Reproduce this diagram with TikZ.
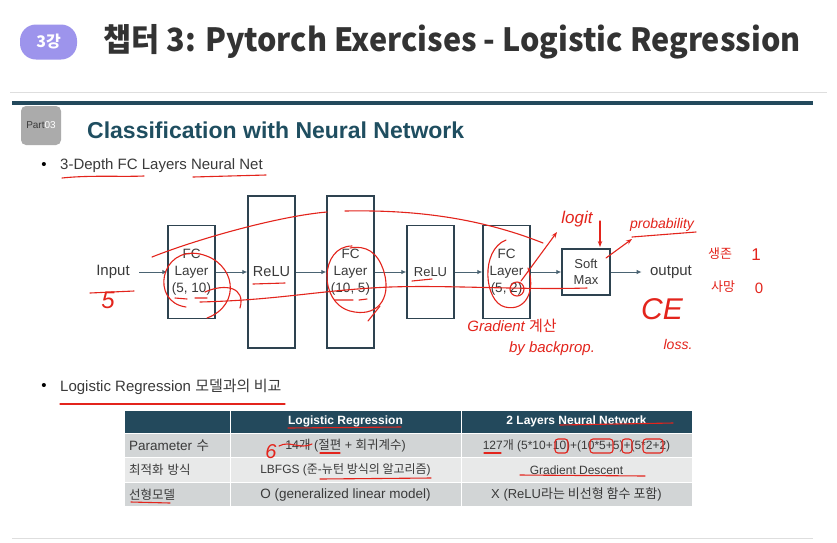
\documentclass[tikz,border=0pt]{standalone}
\usepackage{fontspec}
\setmainfont{Liberation Sans}
\newfontfamily\krfont{Noto Sans CJK KR}
\newcommand{\kor}[1]{{\krfont #1}}
\usetikzlibrary{arrows.meta, positioning}
\definecolor{Slate}{HTML}{23495C}
\definecolor{HeadTeal}{HTML}{1F4E60}
\definecolor{Badge}{HTML}{9D94EC}
\definecolor{TitleGray}{HTML}{333333}
\definecolor{TextGray}{HTML}{3A3A3A}
\definecolor{LineGray}{HTML}{DEDEDE}
\definecolor{PartGray}{HTML}{ABABAB}
\definecolor{BoxLine}{HTML}{2E4350}
\definecolor{ArrowGray}{HTML}{4A6372}
\definecolor{RowDark}{HTML}{D2D5D6}
\definecolor{RowLight}{HTML}{E8E9E9}
\definecolor{Ink}{HTML}{E3241C}

\begin{document}
\begin{tikzpicture}[x=1pt, y=-1pt,
  box/.style={draw=BoxLine, line width=1.4pt, fill=white, inner sep=0pt,
     minimum width=47pt, align=center, text=TextGray, font=\fontsize{13.5}{17}\selectfont},
  arr/.style={-{Latex[length=5pt,width=4.5pt]}, line width=0.9pt, ArrowGray},
  ink/.style={draw=Ink, line width=1.1pt, line cap=round, line join=round},
  note/.style={text=Ink, inner sep=0pt, font=\itshape\fontsize{15}{15}\selectfont},
  cell/.style={draw=white, line width=1pt, inner sep=0pt, minimum height=24.5pt,
     text=TextGray, font=\fontsize{12.5}{12.5}\selectfont},
  head/.style={cell, fill=Slate, text=white, font=\bfseries\fontsize{12}{12}\selectfont}]
  \fill[white] (0,0) rectangle (837,542);
  \useasboundingbox (0,0) rectangle (837,542);

  % page header
  \node[fill=Badge, rounded corners=16pt, minimum width=57pt, minimum height=35pt,
        text=white, font=\krfont\bfseries\fontsize{16}{16}\selectfont] (badge) at (48.5,42) {3강};
  \node[anchor=west, inner sep=0pt, text=TitleGray,
        font=\krfont\bfseries\fontsize{32}{32}\selectfont] (title) at (103,42)
        {\scalebox{0.955}[1]{챕터 3: Pytorch Exercises - Logistic Regression}};
  \draw[LineGray, line width=1pt] (10,92) -- (827,92);
  \draw[Slate, line width=4.5pt] (12,103) -- (813,103);
  \draw[LineGray, line width=0.8pt] (12,538) -- (813,538);

  % slide heading
  \node[fill=PartGray, rounded corners=5pt, minimum width=40pt, minimum height=39pt,
        inner sep=0pt, font=\fontsize{10}{10}\selectfont] (part) at (41,125.5)
        {\textcolor{TextGray}{Part}\textcolor{white}{03}};
  \node[anchor=west, inner sep=0pt, text=HeadTeal, font=\bfseries\fontsize{23}{23}\selectfont]
        (heading) at (87,130) {Classification with Neural Network};
  \node[inner sep=0pt, font=\fontsize{15}{15}\selectfont] (dot1) at (44,166) {•};
  \node[anchor=west, inner sep=0pt, text=TextGray, font=\fontsize{15}{15}\selectfont]
        (bul1) at (60,166) {3-Depth FC Layers Neural Net};

  % network
  \node[text=TextGray, font=\fontsize{15}{15}\selectfont] (input) at (113,272) {Input};
  \node[box, minimum height=93pt] (fc1) at (191.5,272) {FC\\Layer\\(5, 10)};
  \node[box, minimum height=152pt, font=\fontsize{14.5}{14.5}\selectfont] (relu1) at (271.5,272) {ReLU};
  \node[box, minimum height=152pt] (fc2) at (350.5,272) {FC\\Layer\\(10, 5)};
  \node[box, minimum height=93pt, font=\fontsize{13}{13}\selectfont] (relu2) at (430.5,272) {ReLU};
  \node[box, minimum height=93pt] (fc3) at (506.5,272) {FC\\Layer\\(5, 2)};
  \node[box, minimum width=48pt, minimum height=46pt, font=\fontsize{13}{16}\selectfont]
        (soft) at (586,272) {Soft\\Max};
  \node[text=TextGray, font=\fontsize{15}{15}\selectfont] (output) at (671,272) {output};
  \draw[arr, shorten <=6pt] (input) -- (fc1);
  \draw[arr] (fc1) -- (relu1);
  \draw[arr] (relu1) -- (fc2);
  \draw[arr] (fc2) -- (relu2);
  \draw[arr] (relu2) -- (fc3);
  \draw[arr] (fc3) -- (soft);
  \draw[arr, shorten >=5pt] (soft) -- (output);

  % second bullet and table
  \node[inner sep=0pt, font=\fontsize{15}{15}\selectfont] (dot2) at (44,387) {•};
  \node[anchor=west, inner sep=0pt, text=TextGray, font=\fontsize{15}{15}\selectfont]
        (bul2) at (60,387) {Logistic Regression \kor{모델과의 비교}};
  \node[head, minimum width=106pt, minimum height=23pt] (h0) at (177,421.5) {};
  \node[head, minimum width=231pt, minimum height=23pt] (h1) at (345.5,421.5) {Logistic Regression};
  \node[head, minimum width=231pt, minimum height=23pt] (h2) at (576.5,421.5) {2 Layers Neural Network};
  \node[cell, fill=RowDark, minimum width=106pt, text width=96pt, align=left,
        font=\fontsize{13.5}{13.5}\selectfont] (a0) at (177,445.5) {Parameter \kor{수}};
  \node[cell, fill=RowDark, minimum width=231pt] (a1) at (345.5,445.5) {14\kor{개} (\kor{절편} + \kor{회귀계수})};
  \node[cell, fill=RowDark, minimum width=231pt, font=\fontsize{12}{12}\selectfont] (a2) at (576.5,445.5)
        {127\kor{개} (5*10+10)+(10*5+5)+(5*2+2)};
  \node[cell, fill=RowLight, minimum width=106pt, text width=96pt, align=left] (b0) at (177,470) {\kor{최적화 방식}};
  \node[cell, fill=RowLight, minimum width=231pt, font=\fontsize{12}{12}\selectfont] (b1) at (345.5,470)
        {LBFGS (\kor{준}-\kor{뉴턴 방식의 알고리즘})};
  \node[cell, fill=RowLight, minimum width=231pt, font=\fontsize{12}{12}\selectfont] (b2) at (576.5,470) {Gradient Descent};
  \node[cell, fill=RowDark, minimum width=106pt, text width=96pt, align=left] (c0) at (177,494.5) {\kor{선형모델}};
  \node[cell, fill=RowDark, minimum width=231pt, font=\fontsize{13.5}{13.5}\selectfont] (c1) at (345.5,494.5)
        {O (generalized linear model)};
  \node[cell, fill=RowDark, minimum width=231pt, font=\fontsize{13}{13}\selectfont] (c2) at (576.5,494.5)
        {X (ReLU\kor{라는 비선형 함수 포함})};

  % red pen notes
  \draw[ink] (62,178) .. controls (90,175) and (120,177) .. (144,176);
  \draw[ink] (193,177) -- (266,175);
  \draw[ink] (90,293) -- (134,291);
  \node[note, font=\itshape\fontsize{24}{24}\selectfont] (five) at (108,300) {5};
  \draw[ink] (152,257) .. controls (200,238) and (280,216) .. (327,212);
  \draw[ink] (345,211) .. controls (400,210) and (470,214) .. (543,243);
  \draw[ink] (200,254) .. controls (160,246) and (150,302) .. (186,307);
  \draw[ink] (200,254) .. controls (236,262) and (242,305) .. (207,318);
  \draw[ink] (175,298) -- (187,299) (195,298) -- (207,298);
  \draw[ink] (205,292) .. controls (225,283) and (246,287) .. (240,308);
  \draw[ink] (200,302) .. controls (280,300) and (320,290) .. (390,287)
        .. controls (450,285) and (520,290) .. (587,288);
  \draw[ink] (253,284) -- (285,283) (412,281) -- (432,279);
  \draw[ink] (352,246) .. controls (320,246) and (318,302) .. (350,311)
        .. controls (376,318) and (392,300) .. (384,272)
        .. controls (378,252) and (366,245) .. (350,248);
  \draw[ink] (380,306) -- (368,321);
  \draw[ink] (335,300) -- (353,300) (359,300) -- (367,299);
  \draw[ink] (506,240) .. controls (480,250) and (484,302) .. (505,307)
        .. controls (526,312) and (536,290) .. (528,268);
  \draw[ink] (517,289) circle (7);
  \draw[ink, -{Stealth[length=6pt]}] (521,281) -- (557,232);
  \node[note, font=\itshape\fontsize{17}{17}\selectfont] (logit) at (577,219) {logit};
  \draw[ink, -{Stealth[length=6pt]}] (600,221) -- (600,247);
  \draw[ink, -{Stealth[length=6pt]}] (606,258) -- (632,239);
  \node[note, font=\itshape\fontsize{14}{14}\selectfont] (prob) at (662,225) {probability};
  \draw[ink] (632,237) -- (696,232);
  \node[note, font=\itshape\fontsize{30}{30}\selectfont] (ce) at (662,309) {CE};
  \node[note, font=\itshape\fontsize{14}{14}\selectfont] (loss) at (678,344) {loss.};
  \node[note, font=\krfont\fontsize{13}{13}\selectfont] (live) at (720,254) {생존};
  \node[note, font=\fontsize{17}{17}\selectfont] (one) at (756,255) {1};
  \node[note, font=\krfont\fontsize{13}{13}\selectfont] (dead) at (723,287) {사망};
  \node[note, font=\fontsize{15}{15}\selectfont] (zero) at (759,288) {0};
  \node[note] (grad) at (512,326) {Gradient \kor{계산}};
  \node[note] (bp) at (552,349) {by backprop.};
  \draw[ink] (60,404) -- (285,404);
  \draw[ink] (288,428) -- (401,427) (560,425) -- (673,423);
  \node[note, font=\itshape\fontsize{20}{20}\selectfont] (six) at (271,452) {6};
  \draw[ink] (279,446) .. controls (290,440) and (300,450) .. (312,444);
  \draw[ink] (320,453) -- (340,453) (484,453) -- (501,453);
  \draw[ink, rounded corners=3pt] (555,439) rectangle (568,453);
  \draw[ink, rounded corners=3pt] (590,439) rectangle (613,453);
  \draw[ink, rounded corners=3pt] (622,439) rectangle (632,453);
  \draw[ink, rounded corners=3pt] (643,439) rectangle (663,453);
  \draw[ink] (320,479) -- (431,478) (520,475) -- (645,476);
  \draw[ink] (131,502) -- (170,503);
\end{tikzpicture}
\end{document}
